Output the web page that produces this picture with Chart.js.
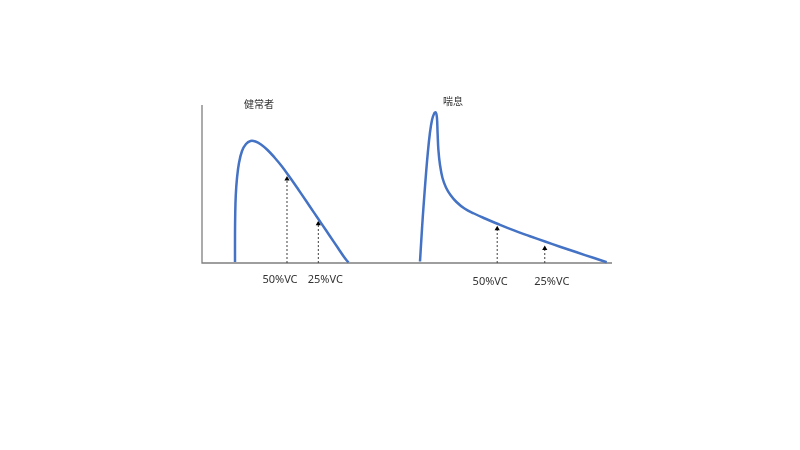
<!DOCTYPE html>
<html lang="ja">
<head>
<meta charset="utf-8">
<title>フローボリューム曲線</title>
<script src="https://cdn.jsdelivr.net/npm/chart.js@4.4.1/dist/chart.umd.min.js"></script>
<style>
  html, body { margin: 0; padding: 0; background: #fff; }
  #wrap { width: 800px; height: 450px; }
</style>
</head>
<body>
<div id="wrap"><canvas id="grafica" width="800" height="450"></canvas></div>
<script>
// Curvas (volumen en x, flujo en y, unidades relativas 0-100)
const sanoVol   = [8.05, 8.05, 8.10, 8.24, 8.54, 9.02, 9.76, 10.73, 11.83, 13.05, 14.39, 15.98, 17.68, 19.51, 21.46, 23.41, 25.37, 27.32, 29.27, 31.22, 33.17, 34.88, 35.73];
const sanoFlujo = [0.63, 15.82, 30.38, 43.04, 53.80, 63.29, 70.89, 75.32, 77.22, 76.90, 75.0, 71.52, 66.77, 61.08, 54.11, 46.84, 39.37, 31.9, 24.43, 16.96, 9.49, 2.97, 0.32];

const asmaVol   = [53.17, 53.49, 53.83, 54.22, 54.63, 55.07, 55.56, 56.10, 56.63, 57.02, 57.29, 57.46, 57.66, 58.05, 58.66, 59.51, 60.61, 62.07, 64.02, 66.34, 69.02, 71.88, 75.93, 80.0, 83.66, 87.32, 91.39, 95.44, 98.71];
const asmaFlujo = [0.95, 14.56, 28.48, 42.41, 56.33, 69.62, 81.65, 90.51, 94.62, 95.25, 92.41, 82.28, 71.52, 62.03, 53.80, 47.78, 43.04, 38.61, 34.49, 31.33, 28.16, 25.0, 20.76, 16.96, 13.61, 10.32, 6.77, 3.29, 0.51];

// Marcas 50%VC y 25%VC
const marcaTextos  = ['50%VC', '25%VC'];
const sanoMarcaX   = [20.73, 28.37];
const sanoMarcaY   = [53.2, 24.8];
const asmaMarcaX   = [72.0, 83.6];
const asmaMarcaY   = [21.6, 9.1];

// Titulos de cada curva
const titulos  = ['健常者', '喘息'];
const tituloX  = [13.9, 61.2];
const tituloY  = [100.6, 102.5];

const azul = '#4472C4';

function puntos(xs, ys) {
    return xs.map((x, i) => ({ x: x, y: ys[i] }));
}

function marca(x, y) {
    return {
        data: [{ x: x, y: 0 }, { x: x, y: y }],
        showLine: true,
        borderColor: '#404040',
        borderWidth: 1,
        borderDash: [2, 2],
        pointRadius: [0, 3],
        pointStyle: 'triangle',
        pointBackgroundColor: '#000',
        pointBorderColor: '#000',
        pointBorderWidth: 0,
        clip: false
    };
}

function curva(xs, ys) {
    return {
        data: puntos(xs, ys),
        showLine: true, borderColor: azul, borderWidth: 2.5,
        pointRadius: 0, tension: 0.4, clip: false
    };
}

const datasets = [curva(sanoVol, sanoFlujo), curva(asmaVol, asmaFlujo)];
sanoMarcaX.forEach((x, i) => datasets.push(marca(x, sanoMarcaY[i])));
asmaMarcaX.forEach((x, i) => datasets.push(marca(x, asmaMarcaY[i])));

// Ejes y textos dibujados con las escalas
const ejesYTextos = {
    id: 'ejesYTextos',
    beforeDatasetsDraw(chart) {
        const ctx = chart.ctx;
        const sx = chart.scales.x, sy = chart.scales.y;
        ctx.save();
        ctx.strokeStyle = '#7f7f7f';
        ctx.lineWidth = 1.3;
        ctx.beginPath();
        ctx.moveTo(sx.getPixelForValue(0), sy.getPixelForValue(100));
        ctx.lineTo(sx.getPixelForValue(0), sy.getPixelForValue(0));
        ctx.lineTo(sx.getPixelForValue(100), sy.getPixelForValue(0));
        ctx.stroke();
        ctx.restore();
    },
    afterDraw(chart) {
        const ctx = chart.ctx;
        const sx = chart.scales.x, sy = chart.scales.y;
        const base = sy.getPixelForValue(0);
        ctx.save();
        ctx.fillStyle = '#333';
        ctx.textAlign = 'center';
        ctx.textBaseline = 'middle';
        ctx.font = '11px "Noto Sans", "Noto Sans CJK JP", sans-serif';
        const desp = [-7, 7];
        sanoMarcaX.forEach((x, i) => {
            ctx.fillText(marcaTextos[i], sx.getPixelForValue(x) + desp[i], base + 17);
        });
        asmaMarcaX.forEach((x, i) => {
            ctx.fillText(marcaTextos[i], sx.getPixelForValue(x) + desp[i], base + 19);
        });
        ctx.font = '10px "Noto Sans CJK JP", sans-serif';
        titulos.forEach((t, i) => {
            ctx.fillText(t, sx.getPixelForValue(tituloX[i]), sy.getPixelForValue(tituloY[i]));
        });
        ctx.restore();
    }
};

new Chart(document.getElementById('grafica').getContext('2d'), {
    type: 'scatter',
    data: { datasets: datasets },
    options: {
        responsive: false,
        animation: false,
        layout: { padding: { left: 202, top: 105, right: 188, bottom: 187 } },
        plugins: { legend: { display: false }, tooltip: { enabled: false } },
        scales: {
            x: { type: 'linear', min: 0, max: 100, display: false },
            y: { type: 'linear', min: 0, max: 100, display: false }
        }
    },
    plugins: [ejesYTextos]
});
</script>
</body>
</html>
